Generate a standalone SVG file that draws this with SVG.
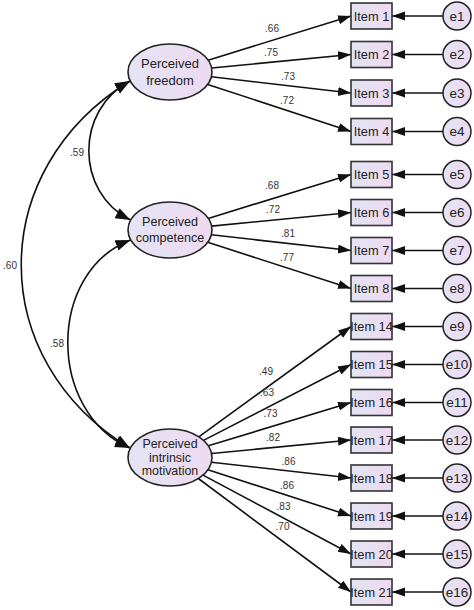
<svg xmlns="http://www.w3.org/2000/svg" width="474" height="610" viewBox="0 0 474 610">
<defs>
<linearGradient id="gl" x1="0" y1="0" x2="1" y2="0">
<stop offset="0" stop-color="#e3e4f3"/>
<stop offset="1" stop-color="#eed9f1"/>
</linearGradient>
<marker id="arr" markerUnits="userSpaceOnUse" markerWidth="14" markerHeight="10" refX="13" refY="4.5" orient="auto">
<path d="M0,0 L13,4.5 L0,9 z" fill="#111"/>
</marker>
<marker id="arrc" markerUnits="userSpaceOnUse" markerWidth="16" markerHeight="12" refX="15" refY="5.5" orient="auto-start-reverse">
<path d="M0,0 L15,5.5 L0,11 z" fill="#111"/>
</marker>
<style>
.lat{fill:url(#gl);stroke:#222;stroke-width:1.6}
.box{fill:url(#gl);stroke:#333;stroke-width:1.6}
.err{fill:url(#gl);stroke:#222;stroke-width:1.5}
.ln{fill:none;stroke:#111;stroke-width:1.6;marker-end:url(#arr)}
.cov{fill:none;stroke:#111;stroke-width:1.6;marker-start:url(#arrc);marker-end:url(#arrc)}
.lt{font-family:"Liberation Sans",Arial,sans-serif;font-size:13px;fill:#222;text-anchor:middle}
.it{font-family:"Liberation Sans",Arial,sans-serif;font-size:12.8px;fill:#222;text-anchor:middle}
.et{font-family:"Liberation Sans",Arial,sans-serif;font-size:13.5px;fill:#222;text-anchor:middle}
.w{font-family:"Liberation Sans",Arial,sans-serif;font-size:10px;fill:#333;text-anchor:middle}
</style>
</defs>
<g id="connectors">
<path class="ln" d="M208.1,60.2 L351,16"/>
<path class="ln" d="M211.6,68 L351,54.5"/>
<path class="ln" d="M211.4,76.8 L351,93"/>
<path class="ln" d="M207.7,84.4 L351,131.5"/>
<path class="ln" d="M208.2,218.4 L351,174.5"/>
<path class="ln" d="M211.6,226.1 L351,212.5"/>
<path class="ln" d="M211.4,234.8 L351,250.5"/>
<path class="ln" d="M207.7,242.3 L351,288.5"/>
<path class="ln" d="M198.8,436.8 L351,326.5"/>
<path class="ln" d="M203.5,440.4 L351,364.5"/>
<path class="ln" d="M208.3,445.8 L351,402.5"/>
<path class="ln" d="M211.6,453.5 L351,440"/>
<path class="ln" d="M211.4,462.2 L351,478"/>
<path class="ln" d="M207.9,469.8 L351,516"/>
<path class="ln" d="M203,475.1 L351,554"/>
<path class="ln" d="M198.3,478.5 L351,592"/>
<path class="ln" d="M443,16 L392,16"/>
<path class="ln" d="M443,54.5 L392,54.5"/>
<path class="ln" d="M443,93 L392,93"/>
<path class="ln" d="M443,131.5 L392,131.5"/>
<path class="ln" d="M443,174.5 L392,174.5"/>
<path class="ln" d="M443,212.5 L392,212.5"/>
<path class="ln" d="M443,250.5 L392,250.5"/>
<path class="ln" d="M443,288.5 L392,288.5"/>
<path class="ln" d="M443,326.5 L392,326.5"/>
<path class="ln" d="M443,364.5 L392,364.5"/>
<path class="ln" d="M443,402.5 L392,402.5"/>
<path class="ln" d="M443,440 L392,440"/>
<path class="ln" d="M443,478 L392,478"/>
<path class="ln" d="M443,516 L392,516"/>
<path class="ln" d="M443,554 L392,554"/>
<path class="ln" d="M443,592 L392,592"/>
<path class="cov" d="M130,81 C-15,170 -15,360 130,448"/>
<path class="cov" d="M130,81 C75,110 75,192 130.5,220"/>
<path class="cov" d="M130.5,240 C47,272 47,412 130,448"/>
<text class="w" x="272" y="31.5">.66</text>
<text class="w" x="271" y="56">.75</text>
<text class="w" x="288" y="80">.73</text>
<text class="w" x="287" y="104">.72</text>
<text class="w" x="272" y="188.5">.68</text>
<text class="w" x="273" y="212.5">.72</text>
<text class="w" x="288" y="236.5">.81</text>
<text class="w" x="287" y="260.5">.77</text>
<text class="w" x="266" y="375">.49</text>
<text class="w" x="267" y="395.5">.63</text>
<text class="w" x="270.5" y="416.5">.73</text>
<text class="w" x="273" y="440.5">.82</text>
<text class="w" x="288.5" y="464.5">.86</text>
<text class="w" x="287" y="488.5">.86</text>
<text class="w" x="283.5" y="510">.83</text>
<text class="w" x="282.5" y="530">.70</text>
<text class="w" x="77" y="155.5">.59</text>
<text class="w" x="10" y="268.5">.60</text>
<text class="w" x="57" y="346.5">.58</text>
</g>
<g id="freedom"><ellipse class="lat" cx="170" cy="72" rx="42" ry="28"/><text class="lt" x="170" y="68">Perceived</text><text class="lt" x="170" y="84.5">freedom</text></g>
<g id="competence"><ellipse class="lat" cx="170" cy="230" rx="42" ry="28"/><text class="lt" x="170" y="226" style="font-size:12.6px">Perceived</text><text class="lt" x="170" y="242" style="font-size:12.6px">competence</text></g>
<g id="motivation"><ellipse class="lat" cx="170" cy="457.5" rx="42" ry="28.5"/><text class="lt" x="170" y="448" style="font-size:12.4px">Perceived</text><text class="lt" x="170" y="461.5" style="font-size:12.4px">intrinsic</text><text class="lt" x="170" y="475" style="font-size:12.4px">motivation</text></g>
<g id="item1"><rect class="box" x="351" y="3" width="41" height="26"/><text class="it" x="371.5" y="20.5">Item 1</text></g>
<g id="item2"><rect class="box" x="351" y="41.5" width="41" height="26"/><text class="it" x="371.5" y="59">Item 2</text></g>
<g id="item3"><rect class="box" x="351" y="80" width="41" height="26"/><text class="it" x="371.5" y="97.5">Item 3</text></g>
<g id="item4"><rect class="box" x="351" y="118.5" width="41" height="26"/><text class="it" x="371.5" y="136">Item 4</text></g>
<g id="item5"><rect class="box" x="351" y="161.5" width="41" height="26"/><text class="it" x="371.5" y="179">Item 5</text></g>
<g id="item6"><rect class="box" x="351" y="199.5" width="41" height="26"/><text class="it" x="371.5" y="217">Item 6</text></g>
<g id="item7"><rect class="box" x="351" y="237.5" width="41" height="26"/><text class="it" x="371.5" y="255">Item 7</text></g>
<g id="item8"><rect class="box" x="351" y="275.5" width="41" height="26"/><text class="it" x="371.5" y="293">Item 8</text></g>
<g id="item14"><rect class="box" x="351" y="313.5" width="41" height="26"/><text class="it" x="371.5" y="331">Item 14</text></g>
<g id="item15"><rect class="box" x="351" y="351.5" width="41" height="26"/><text class="it" x="371.5" y="369">Item 15</text></g>
<g id="item16"><rect class="box" x="351" y="389.5" width="41" height="26"/><text class="it" x="371.5" y="407">Item 16</text></g>
<g id="item17"><rect class="box" x="351" y="427" width="41" height="26"/><text class="it" x="371.5" y="444.5">Item 17</text></g>
<g id="item18"><rect class="box" x="351" y="465" width="41" height="26"/><text class="it" x="371.5" y="482.5">Item 18</text></g>
<g id="item19"><rect class="box" x="351" y="503" width="41" height="26"/><text class="it" x="371.5" y="520.5">Item 19</text></g>
<g id="item20"><rect class="box" x="351" y="541" width="41" height="26"/><text class="it" x="371.5" y="558.5">Item 20</text></g>
<g id="item21"><rect class="box" x="351" y="579" width="41" height="26"/><text class="it" x="371.5" y="596.5">Item 21</text></g>
<g id="e1"><circle class="err" cx="457" cy="16" r="14"/><text class="et" x="457" y="20.8">e1</text></g>
<g id="e2"><circle class="err" cx="457" cy="54.5" r="14"/><text class="et" x="457" y="59.3">e2</text></g>
<g id="e3"><circle class="err" cx="457" cy="93" r="14"/><text class="et" x="457" y="97.8">e3</text></g>
<g id="e4"><circle class="err" cx="457" cy="131.5" r="14"/><text class="et" x="457" y="136.3">e4</text></g>
<g id="e5"><circle class="err" cx="457" cy="174.5" r="14"/><text class="et" x="457" y="179.3">e5</text></g>
<g id="e6"><circle class="err" cx="457" cy="212.5" r="14"/><text class="et" x="457" y="217.3">e6</text></g>
<g id="e7"><circle class="err" cx="457" cy="250.5" r="14"/><text class="et" x="457" y="255.3">e7</text></g>
<g id="e8"><circle class="err" cx="457" cy="288.5" r="14"/><text class="et" x="457" y="293.3">e8</text></g>
<g id="e9"><circle class="err" cx="457" cy="326.5" r="14"/><text class="et" x="457" y="331.3">e9</text></g>
<g id="e10"><circle class="err" cx="457" cy="364.5" r="14"/><text class="et" x="457" y="369.3">e10</text></g>
<g id="e11"><circle class="err" cx="457" cy="402.5" r="14"/><text class="et" x="457" y="407.3">e11</text></g>
<g id="e12"><circle class="err" cx="457" cy="440" r="14"/><text class="et" x="457" y="444.8">e12</text></g>
<g id="e13"><circle class="err" cx="457" cy="478" r="14"/><text class="et" x="457" y="482.8">e13</text></g>
<g id="e14"><circle class="err" cx="457" cy="516" r="14"/><text class="et" x="457" y="520.8">e14</text></g>
<g id="e15"><circle class="err" cx="457" cy="554" r="14"/><text class="et" x="457" y="558.8">e15</text></g>
<g id="e16"><circle class="err" cx="457" cy="592" r="14"/><text class="et" x="457" y="596.8">e16</text></g>
</svg>
